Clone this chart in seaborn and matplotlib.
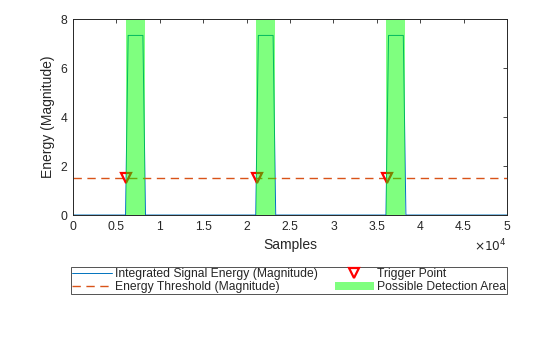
import matplotlib
matplotlib.use("Agg")
import matplotlib.pyplot as plt
import seaborn as sns
import pandas as pd
from matplotlib.lines import Line2D
from matplotlib.patches import Patch

# Data
signal_samples = [0, 6050, 6350, 8050, 8350, 21050, 21350, 23050, 23350, 36050, 36350, 38050, 38350, 50000]
signal_energy = [0, 0, 7.33, 7.33, 0, 0, 7.33, 7.33, 0, 0, 7.33, 7.33, 0, 0]
threshold = 1.5
trigger_samples = [6150, 21150, 36150]
trigger_energy = [1.5, 1.5, 1.5]
area_start = [6100, 21100, 36100]
area_end = [8300, 23300, 38300]
xticks = [0, 5000, 10000, 15000, 20000, 25000, 30000, 35000, 40000, 45000, 50000]
xtick_labels = ["0", "0.5", "1", "1.5", "2", "2.5", "3", "3.5", "4", "4.5", "5"]
yticks = [0, 2, 4, 6, 8]

sns.set_theme(style="white")
plt.rcParams['font.family'] = ['Liberation Sans', 'DejaVu Sans']
plt.rcParams['xtick.direction'] = 'in'
plt.rcParams['ytick.direction'] = 'in'

fig = plt.figure(figsize=(5.6, 3.37), dpi=100)
ax = fig.add_axes([0.1304, 0.362, 0.775, 0.5816])

c_sig = "#0072BD"
c_thr = "#D95319"
axc = "#262626"

df = pd.DataFrame({"s": signal_samples, "e": signal_energy})
sns.lineplot(data=df, x="s", y="e", ax=ax, color=c_sig, linewidth=0.7, sort=False, estimator=None, zorder=2)
ax.axhline(threshold, color=c_thr, linestyle=(0, (6, 4)), linewidth=1.0, zorder=2)
tdf = pd.DataFrame({"s": trigger_samples, "e": trigger_energy})
ax.plot(tdf["s"], tdf["e"], linestyle="none", marker="v", markersize=7.5,
        markerfacecolor="none", markeredgecolor="red", markeredgewidth=1.6, zorder=3)
for a, b in zip(area_start, area_end):
    ax.axvspan(a, b, ymin=0, ymax=1, color=(0, 1, 0), alpha=0.5, linewidth=0, zorder=4)

ax.set_xlim(0, 50000)
ax.set_ylim(0, 8)
ax.set_xticks(xticks)
ax.set_xticklabels(xtick_labels)
ax.set_yticks(yticks)
ax.tick_params(axis="both", which="both", direction="in", length=3, width=0.6,
               top=True, right=True, labelsize=8.7, colors=axc, pad=4)
for sp in ax.spines.values():
    sp.set_color(axc)
    sp.set_linewidth(0.7)
    sp.set_zorder(5)
ax.set_xlabel("Samples", fontsize=10, color=axc, labelpad=4)
ax.set_ylabel("Energy (Magnitude)", fontsize=10, color=axc, labelpad=4)
ax.text(1.0, -0.118, r"$\times10^{4}$", transform=ax.transAxes, ha="right", va="top",
        fontsize=8.7, color=axc)

handles = [
    Line2D([0], [0], color=c_sig, linewidth=0.7),
    Line2D([0], [0], color=c_thr, linestyle=(0, (6, 4)), linewidth=1.0),
    Line2D([0], [0], linestyle="none", marker="v", markersize=7.5, markerfacecolor="none",
           markeredgecolor="red", markeredgewidth=1.6),
    Patch(facecolor=(0, 1, 0), alpha=0.5, edgecolor="none"),
]
labels = ["Integrated Signal Energy (Magnitude)", "Energy Threshold (Magnitude)",
          "Trigger Point", "Possible Detection Area"]
leg = fig.legend(handles, labels, ncol=2, loc="center",
                 bbox_to_anchor=(71 / 560, 1 - 296 / 337, 436 / 560, 31 / 337),
                 mode="expand", fontsize=8.7, frameon=True, fancybox=False,
                 borderpad=0.1, labelspacing=0.1, handlelength=3.3, handletextpad=0.2,
                 columnspacing=0.5, borderaxespad=0)
leg.get_frame().set_edgecolor(axc)
leg.get_frame().set_linewidth(0.7)
for t in leg.get_texts():
    t.set_color(axc)

fig.savefig("out.png", dpi=100)
